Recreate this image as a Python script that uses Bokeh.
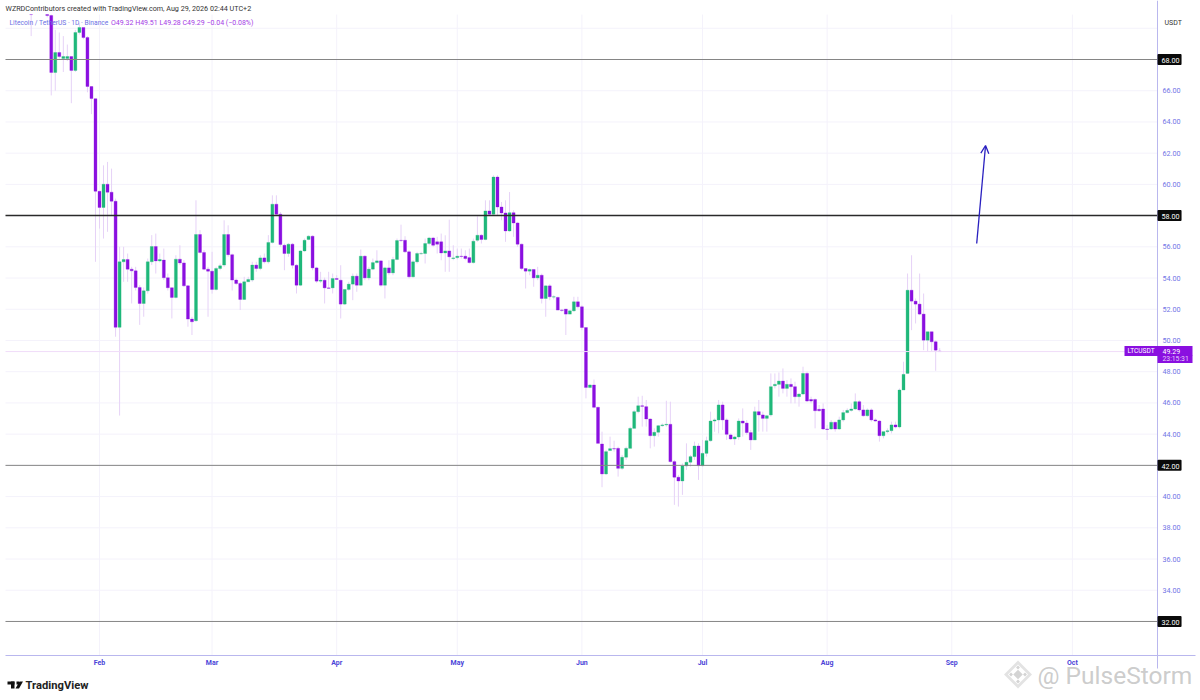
from bokeh.plotting import figure
from bokeh.embed import file_html
from bokeh.resources import INLINE
from bokeh.models import (ColumnDataSource, FixedTicker, LinearAxis, Label, Arrow, OpenHead,
                          BoxAnnotation, PolyAnnotation, NumeralTickFormatter)

# Daily candles, first entry 17 days before 1 Feb, last entry 29 Aug
opens = [72.5,72.2,71.9,71.6,70.95,70.82,67.17,68.45,68.06,68.06,68.19,67.3,69.73,70.05,69.41,66.27,65.49,
 59.56,58.52,60.01,59.5,58.92,50.84,55.04,55.19,54.57,54.46,
 53.40,52.37,53.18,55.04,56.02,55.10,55.15,54.02,53.38,52.76,
 55.21,54.97,53.50,51.37,51.27,56.79,55.64,54.57,54.44,53.27,
 54.61,54.83,56.79,55.5,53.87,53.65,52.63,53.76,53.87,54.83,
 54.61,55.29,55.04,56.28,58.73,58.09,56.10,55.57,56.17,54.82,
 53.54,55.74,56.47,56.68,54.65,53.80,53.86,53.37,53.37,53.97,
 53.86,52.33,53.27,53.61,54.12,53.54,55.40,54.01,54.57,54.99,
 55.10,53.54,54.65,54.33,55.19,56.42,56.42,55.68,54.08,55.04,
 55.55,55.57,56.21,56.57,56.32,56.32,55.61,55.74,55.25,55.31,
 55.40,55.40,55.31,54.99,56.42,56.74,56.47,58.30,58.09,60.47,
 58.55,58.17,57.02,58.19,57.53,56.17,54.61,54.44,54.55,54.01,
 54.18,52.69,53.50,52.78,52.76,51.95,52.01,51.69,51.90,52.48,
 52.16,50.83,46.99,47.15,45.72,43.37,41.45,42.95,43.07,43.09,
 41.81,42.52,43.09,44.37,45.44,45.82,45.76,44.97,43.90,44.12,
 44.54,44.59,44.63,42.24,41.24,41.00,41.96,42.20,42.56,43.24,
 41.98,42.77,43.58,44.84,44.91,45.87,44.91,43.95,43.69,43.82,
 44.84,44.71,44.10,43.63,45.44,45.23,45.01,45.23,47.10,47.19,
 47.40,46.93,47.19,47.04,46.40,46.57,47.89,46.22,46.22,45.59,
 45.61,44.33,44.33,44.76,44.33,44.91,45.38,45.52,45.61,46.08,
 45.55,45.18,45.55,44.91,44.84,43.90,44.16,44.22,44.59,44.46,
 46.83,47.89,53.22,52.52,52.33,51.69,50.02,50.56,49.92,49.32]

closes = [72.2,71.9,71.6,71.4,70.82,67.17,68.45,68.19,68.19,68.19,67.3,69.73,70.05,69.41,66.27,65.5,59.56,
 58.52,60.01,59.5,58.92,50.84,55.04,55.19,54.57,54.46,53.40,
 52.37,53.18,55.04,56.02,55.10,55.19,54.02,53.38,52.76,55.21,
 54.97,53.50,51.37,51.2,56.79,55.64,54.57,54.44,53.27,54.61,
 54.78,56.79,55.5,53.87,53.65,52.63,53.76,53.91,54.83,54.61,
 55.29,55.04,56.28,58.73,58.09,56.15,55.57,56.17,54.82,53.54,
 55.74,56.42,56.68,54.65,53.80,53.86,53.37,53.34,53.97,53.91,
 52.33,53.27,53.61,54.12,53.54,55.40,54.01,54.57,54.99,55.10,
 53.54,54.65,54.33,55.19,56.40,56.40,55.68,54.08,55.04,55.57,
 55.57,56.21,56.57,56.10,56.17,55.61,55.74,55.36,55.29,55.40,
 55.38,55.25,54.99,56.36,56.74,56.47,58.30,58.09,60.47,58.55,
 58.17,57.02,58.19,57.53,56.17,54.61,54.44,54.55,54.01,54.18,
 52.69,53.50,52.80,52.80,51.95,51.93,51.69,51.90,52.48,52.16,
 50.83,46.99,47.15,45.72,43.41,41.45,42.88,43.07,43.05,41.81,
 42.52,43.09,44.37,45.44,45.82,45.78,44.97,43.90,44.12,44.54,
 44.59,44.63,42.24,41.24,41.00,41.96,42.20,42.56,43.24,41.98,
 42.77,43.58,44.84,44.91,45.87,44.91,43.99,43.69,43.82,44.84,
 44.71,44.10,43.63,45.44,45.23,45.01,45.18,47.04,47.19,47.40,
 46.93,47.19,47.04,46.40,46.57,47.89,46.12,46.12,45.50,45.50,
 44.33,44.30,44.76,44.33,44.91,45.38,45.52,45.61,46.08,45.55,
 45.18,45.55,44.91,44.84,43.90,44.16,44.22,44.59,44.46,46.83,
 47.83,53.22,52.52,52.33,51.69,50.02,50.56,49.92,49.38,49.29]

highs = [72.8,72.6,72.2,71.9,71.1,71.0,69.9,69.73,69.5,68.96,68.2,69.9,70.3,70.05,69.5,66.3,65.5,
 59.56,61.22,61.44,61.01,59.09,56.0,56.0,55.57,54.72,54.72,
 53.55,53.4,55.25,56.75,56.85,55.57,55.89,54.29,53.4,55.46,
 56.1,55.15,53.55,51.52,58.98,57.07,55.8,54.72,55.68,54.72,
 54.93,57.7,57.38,55.57,53.97,53.76,54.08,54.08,55.04,55.04,
 55.46,55.57,56.75,59.3,59.3,58.23,56.21,56.25,56.25,54.89,
 55.78,56.53,56.74,56.74,54.72,54.40,54.03,54.40,54.29,54.18,
 54.82,53.27,53.76,54.29,54.29,55.83,55.46,54.72,55.25,55.78,
 55.14,54.72,55.14,55.36,56.53,57.42,56.68,55.78,55.14,55.68,
 55.68,56.53,56.64,56.64,56.64,56.85,56.74,57.74,56.10,55.89,
 55.89,55.78,55.89,56.53,57.96,56.81,58.98,58.98,60.58,60.58,
 58.87,58.98,59.51,58.34,57.60,56.21,54.61,54.61,54.55,54.72,
 54.29,53.54,53.61,52.90,52.80,52.01,52.01,51.95,52.80,52.80,
 52.26,50.83,47.20,47.50,45.76,44.16,42.99,43.84,43.58,43.20,
 42.67,43.20,44.48,45.55,46.40,46.46,46.19,45.01,44.37,44.59,
 44.69,46.14,46.08,42.35,41.39,42.13,43.41,42.67,43.52,43.41,
 43.63,43.84,45.44,45.01,46.19,46.08,45.01,44.05,43.90,45.01,
 45.65,44.90,44.27,45.76,46.19,45.44,45.23,47.89,47.89,47.95,
 48.21,47.46,47.57,47.36,46.61,48.32,48.00,46.40,46.29,45.87,
 45.97,44.59,44.90,44.80,45.12,45.55,45.65,45.97,46.61,46.19,
 45.87,45.65,45.65,45.01,44.90,44.16,44.37,44.80,44.80,46.93,
 48.64,54.29,55.46,52.69,54.29,53.01,50.56,50.56,50.02,49.51]

lows = [69.5,71.4,71.3,71.2,70.7,65.7,66.0,68.06,67.2,67.9,65.2,67.2,69.6,69.3,65.9,64.5,55.04,
 57.17,56.53,56.96,58.02,50.24,45.19,53.76,53.76,52.37,53.2,
 51.0,51.52,53.0,54.83,54.29,55.0,53.87,53.2,51.41,52.69,
 54.83,53.44,50.88,50.35,51.2,55.57,54.5,51.52,53.0,53.2,
 54.5,54.72,55.36,53.2,53.55,51.95,52.6,53.76,53.76,54.4,
 54.5,54.93,54.93,56.21,58.0,56.0,54.50,55.36,54.61,53.01,
 53.48,55.68,56.42,54.50,53.69,53.69,52.37,53.33,53.01,53.90,
 51.41,52.27,53.18,52.58,53.12,53.48,53.86,53.86,54.50,54.93,
 53.44,52.69,54.18,54.18,55.14,56.32,55.61,53.97,54.03,54.93,
 55.51,54.93,56.10,56.00,55.57,55.14,54.40,54.40,55.14,55.19,
 55.25,55.14,54.93,54.93,56.32,56.21,56.42,58.02,58.02,58.02,
 57.70,56.32,56.96,56.64,56.00,54.50,53.33,54.18,53.44,53.86,
 52.37,51.52,52.58,52.63,51.95,51.84,50.35,51.69,51.84,52.05,
 50.66,46.29,46.93,45.65,43.41,40.60,41.39,42.99,42.88,41.28,
 41.71,42.35,43.09,44.37,45.33,44.48,44.48,43.09,43.20,43.84,
 44.48,44.48,42.18,39.47,39.36,40.11,41.71,41.92,42.35,41.07,
 41.92,42.56,43.52,44.15,44.05,44.27,43.63,43.63,43.31,43.63,
 43.84,43.95,42.99,43.63,44.16,44.16,44.16,45.12,46.93,46.40,
 46.61,46.40,45.97,45.97,45.76,46.51,46.08,45.97,44.37,45.44,
 44.27,43.63,44.27,44.16,44.27,44.80,45.33,45.44,45.55,45.44,
 45.12,45.12,44.80,44.80,43.52,43.73,44.05,44.05,44.37,44.37,
 46.83,47.85,50.66,51.09,51.62,49.38,49.28,49.28,48.06,49.28]

first_day = -17           # days relative to 1 Feb
month_days = [0, 28, 59, 89, 120, 150, 181, 212, 242]
month_names = ["Feb", "Mar", "Apr", "May", "Jun", "Jul", "Aug", "Sep", "Oct"]
price_ticks = [34, 36, 38, 40, 44, 46, 48, 50, 52, 54, 56, 60, 62, 64, 66]
grid_prices = [32, 34, 36, 38, 40, 42, 44, 46, 48, 50, 52, 54, 56, 58, 60, 62, 64, 66, 68, 70]
levels = [68.0, 58.0, 42.0, 32.0]
last_price = 49.29
arrow_days = [218.2, 220.4]
arrow_prices = [56.21, 62.49]

assert len(opens) == len(closes) == len(highs) == len(lows), (len(opens), len(closes), len(highs), len(lows))

PURPLE = "#8a0fe0"; GREEN = "#1fb87a"; WICK = "#e6d2f7"
AXIS = "#b9b7ee"; TICKC = "#7276e6"; MONTHC = "#4a44d8"; FONT = "Roboto"

# visible price pane inside the full-page frame
PANE_L, PANE_R, PANE_T, PANE_B = -23.38, 263.18, 70.88, 29.82

days = [first_day + i for i in range(len(opens))]
keep = [i for i in range(len(days)) if min(opens[i], closes[i], lows[i]) < PANE_T]
src = ColumnDataSource(dict(
    d=[days[i] for i in keep],
    o=[min(opens[i], PANE_T) for i in keep],
    c=[min(closes[i], PANE_T) for i in keep],
    h=[min(highs[i], PANE_T) for i in keep],
    l=[lows[i] for i in keep],
    col=[GREEN if closes[i] >= opens[i] else PURPLE for i in keep]))

p = figure(width=1200, height=700, output_backend="svg", toolbar_location=None,
           x_range=(-24.626, 273.87), y_range=(26.937, 71.78),
           x_axis_location=None, y_axis_location=None,
           min_border_left=0, min_border_right=0, min_border_top=0, min_border_bottom=0,
           background_fill_color="white", border_fill_color="white", outline_line_color=None)
p.xgrid.visible = False; p.ygrid.visible = False

yax = LinearAxis(ticker=FixedTicker(ticks=price_ticks), formatter=NumeralTickFormatter(format="0.00"))
yax.axis_line_color = None
yax.major_tick_line_color = None; yax.minor_tick_line_color = None
yax.major_tick_in = 0; yax.major_tick_out = 0
yax.major_label_text_color = TICKC; yax.major_label_text_font = FONT
yax.major_label_text_font_size = "7.2px"; yax.major_label_standoff = -38
p.add_layout(yax, "right")

xax = LinearAxis(ticker=FixedTicker(ticks=month_days),
                 major_label_overrides=dict(zip(month_days, month_names)))
xax.axis_line_color = None
xax.major_tick_line_color = None; xax.minor_tick_line_color = None
xax.major_tick_in = 0; xax.major_tick_out = 0
xax.major_label_text_color = MONTHC; xax.major_label_text_font = FONT
xax.major_label_text_font_style = "bold"
xax.major_label_text_font_size = "7px"; xax.major_label_standoff = -42
p.add_layout(xax, "below")

# grid limited to the price pane
GRIDC = "#f4f2fb"
p.segment(x0=PANE_L, x1=PANE_R, y0=grid_prices, y1=grid_prices, line_color=GRIDC, line_width=1)
p.segment(x0=month_days, x1=month_days, y0=PANE_B, y1=PANE_T, line_color=GRIDC, line_width=1)

p.segment("d", "h", "d", "l", source=src, line_color=WICK, line_width=1)
p.vbar(x="d", top="o", bottom="c", width=0.74, source=src, fill_color="col", line_color="col", line_width=0.3)

p.segment(x0=PANE_L, x1=PANE_R, y0=last_price, y1=last_price, line_color="#f0dcf9", line_width=1)
for lv, w, col in zip(levels, [1, 1.5, 1, 1], ["#858585", "#2a2a2a", "#858585", "#858585"]):
    p.segment(x0=PANE_L, x1=PANE_R, y0=lv, y1=lv, line_color=col, line_width=w)

p.add_layout(Arrow(end=OpenHead(line_color="#2a20c0", line_width=1.3, size=8),
                   x_start=arrow_days[0], y_start=arrow_prices[0], x_end=arrow_days[1], y_end=arrow_prices[1],
                   line_color="#2a20c0", line_width=1.3))

def lab(x, y, t, color="#333333", size=7.2, style="normal", y_units="canvas", **kw):
    l = Label(x=x, y=y, text=t, x_units="canvas", y_units=y_units, text_color=color, text_font=FONT,
              text_font_size=f"{size}px", text_font_style=style, text_baseline="middle", **kw)
    p.add_layout(l)
    return l

def box(l, r, t, b, color):
    p.add_layout(BoxAnnotation(left=l, right=r, top=t, bottom=b, left_units="canvas", right_units="canvas",
                               top_units="canvas", bottom_units="canvas", fill_color=color, fill_alpha=1,
                               line_color=None))

def poly(xs, ys, color, alpha=1.0):
    p.add_layout(PolyAnnotation(xs=xs, ys=ys, xs_units="canvas", ys_units="canvas", fill_color=color,
                                fill_alpha=alpha, line_color=None))

# axis rules
box(5, 1195, 655.5, 654.5, AXIS)
box(1156.5, 1157.5, 668, 0, AXIS)

# header
lab(5, 8, "WZRDContributors created with TradingView.com, Aug 29, 2026 02:44 UTC+2", "#333333", 7.2)
lab(9, 22, "Litecoin / TetherUS · 1D · Binance", "#6c70e4", 6.7)
lab(110.5, 22, "O49.32  H49.51  L49.28  C49.29  −0.04 (−0.08%)", "#a43be6", 7)
lab(1164, 22, "USDT", "#333333", 7)

# level tags
for lv in levels:
    lab(1157, lv, f"{lv:.2f}", "white", 7.2, y_units="data", background_fill_color="#0a0a0a",
        padding=(4, 2, 4, 2), border_radius=1)

# last price tag
box(1124, 1192, 355.5, 345.5, PURPLE)
box(1157, 1192, 362.5, 355, PURPLE)
lab(1127, 350.5, "LTCUSDT", "white", 6.6)
lab(1162, 350.5, "49.29", "white", 7)
lab(1162, 358.5, "23:15:31", "#e6d0fa", 6.8)

# TradingView logo
box(7, 14, 684, 681, "#111111")
box(10.5, 14, 688, 681, "#111111")
poly([16, 18.5, 18.5, 16], [681, 681, 684, 684], "#111111")
poly([19, 22.5, 18.5, 15], [681, 681, 688, 688], "#111111")
lab(25, 684.5, "TradingView", "#222222", 11.2, "bold")

# watermark: diamond logo and handle
cx, cy, r = 1017.5, 674, 14
poly([cx, cx + r, cx, cx - r], [cy - r, cy, cy + r, cy], "#dcdcdc", 0.8)
for dx, dy, rr, col in [(0, 0, 0.72, "#ffffff"), (0, 0, 0.34, "#d4d4d4"),
                        (0, -0.5, 0.14, "#d4d4d4"), (0, 0.5, 0.14, "#d4d4d4"),
                        (-0.5, 0, 0.14, "#d4d4d4"), (0.5, 0, 0.14, "#d4d4d4")]:
    x0 = cx + dx * r; y0 = cy + dy * r; rp = rr * r
    poly([x0, x0 + rp, x0, x0 - rp], [y0 - rp, y0, y0 + rp, y0], col, 1.0)
lab(1037, 675, "@ PulseStorm", "#c6c6c6", 24.5, text_alpha=0.9)

open("out.html", "w").write(file_html(p, INLINE))
